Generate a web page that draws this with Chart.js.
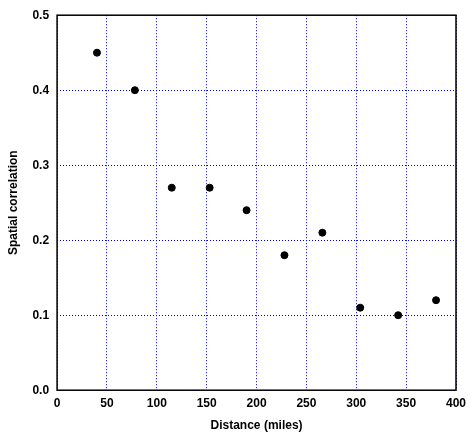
<!DOCTYPE html>
<html>
<head>
<script src="https://cdn.jsdelivr.net/npm/chart.js@4"></script>
<style>
  body { margin: 0; background: #fff; }
  #wrap { width: 474px; height: 437px; }
</style>
</head>
<body>
<div id="wrap"><canvas id="chart"></canvas></div>
<script>
// data
const distances = [40, 78, 115, 153, 190, 228, 266, 304, 342, 380];
const correlations = [0.45, 0.40, 0.27, 0.27, 0.24, 0.18, 0.21, 0.11, 0.10, 0.12];
const xTicks = [0, 50, 100, 150, 200, 250, 300, 350, 400];
const yTicks = [0.0, 0.1, 0.2, 0.3, 0.4, 0.5];

const points = distances.map((d, i) => ({ x: d, y: correlations[i] }));

// black frame around the plot area
const frame = {
    id: 'frame',
    afterDraw(chart) {
        const a = chart.chartArea, ctx = chart.ctx;
        ctx.save();
        ctx.strokeStyle = '#000';
        ctx.lineWidth = 1.5;
        ctx.strokeRect(a.left, a.top, a.right - a.left, a.bottom - a.top);
        ctx.restore();
    }
};

const font = { family: 'Liberation Sans', size: 12, weight: 'bold' };

new Chart(document.getElementById('chart'), {
    type: 'scatter',
    data: {
        datasets: [{
            data: points,
            backgroundColor: '#000',
            borderColor: '#000',
            pointRadius: 3.5
        }]
    },
    options: {
        responsive: true,
        maintainAspectRatio: false,
        animation: false,
        layout: { padding: { top: 6, right: 18, left: 2, bottom: 2 } },
        plugins: { legend: { display: false }, tooltip: { enabled: false } },
        scales: {
            x: {
                min: 0, max: 400,
                afterBuildTicks: axis => { axis.ticks = xTicks.map(v => ({ value: v })); },
                grid: { color: '#0000cc', lineWidth: 1, drawTicks: false },
                border: { display: false, dash: [1, 2] },
                ticks: { color: '#000', font: font, padding: 6, maxRotation: 0 },
                title: { display: true, text: 'Distance (miles)', color: '#000', font: font, padding: 2 }
            },
            y: {
                min: 0, max: 0.5,
                afterBuildTicks: axis => { axis.ticks = yTicks.map(v => ({ value: v })); },
                grid: { color: '#0000cc', lineWidth: 1, drawTicks: false },
                border: { display: false, dash: [1, 2] },
                ticks: { color: '#000', font: font, padding: 8, callback: v => v.toFixed(1) },
                title: { display: true, text: 'Spatial correlation', color: '#000', font: font, padding: 4 }
            }
        }
    },
    plugins: [frame]
});
</script>
</body>
</html>
